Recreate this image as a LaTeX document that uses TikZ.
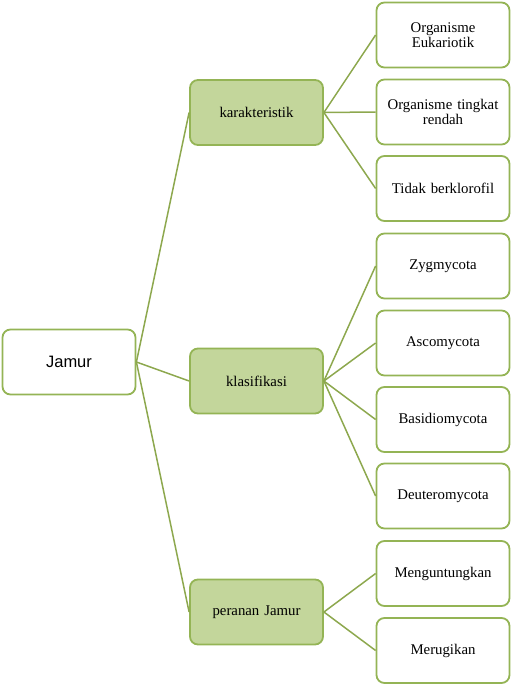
\documentclass[tikz,border=0pt]{standalone}
\usepackage{fontspec}
\setmainfont{Liberation Serif}[WordSpace={0.7,0.5,0.3}]
\newfontfamily\jamurfont{Liberation Sans}
\definecolor{olivebd}{HTML}{94B455}
\definecolor{olivefill}{HTML}{C3D69B}
\definecolor{oliveln}{HTML}{8DA84E}
\begin{document}
\begin{tikzpicture}[x=1pt,y=-1pt,
  box/.style={draw=olivebd, line width=1.8pt, rounded corners=8pt, minimum width=133pt, minimum height=65pt, inner sep=0pt, align=center, text width=128pt, font=\fontsize{14.8}{15.5}\selectfont},
  leafbox/.style={box, fill=white},
  midbox/.style={box, fill=olivefill},
  rootbox/.style={box, fill=white, font=\jamurfont\fontsize{16.5}{18}\selectfont},
  link/.style={draw=oliveln, line width=1.5pt}
]
\useasboundingbox (0,0) rectangle (512,685);
\node[rootbox] (jamur) at (69,362) {Jamur};
\node[midbox] (kar) at (256.5,112.5) {karakteristik};
\node[midbox] (kla) at (256.5,381) {klasifikasi};
\node[midbox] (per) at (256.5,612) {peranan Jamur};
\node[leafbox] (l1) at (443,35) {Organisme\\Eukariotik};
\node[leafbox] (l2) at (443,112) {Organisme tingkat\\rendah};
\node[leafbox] (l3) at (443,188.5) {Tidak berklorofil};
\node[leafbox] (l4) at (443,266) {Zygmycota};
\node[leafbox] (l5) at (443,343) {Ascomycota};
\node[leafbox] (l6) at (443,419.5) {Basidiomycota};
\node[leafbox] (l7) at (443,496) {Deuteromycota};
\node[leafbox] (l8) at (443,573.5) {Menguntungkan};
\node[leafbox] (l9) at (443,650.5) {Merugikan};
\foreach \m in {kar,kla,per} \draw[link] (jamur.east) -- (\m.west);
\foreach \l in {l1,l2,l3} \draw[link] (kar.east) -- (\l.west);
\foreach \l in {l4,l5,l6,l7} \draw[link] (kla.east) -- (\l.west);
\foreach \l in {l8,l9} \draw[link] (per.east) -- (\l.west);
\end{tikzpicture}
\end{document}
